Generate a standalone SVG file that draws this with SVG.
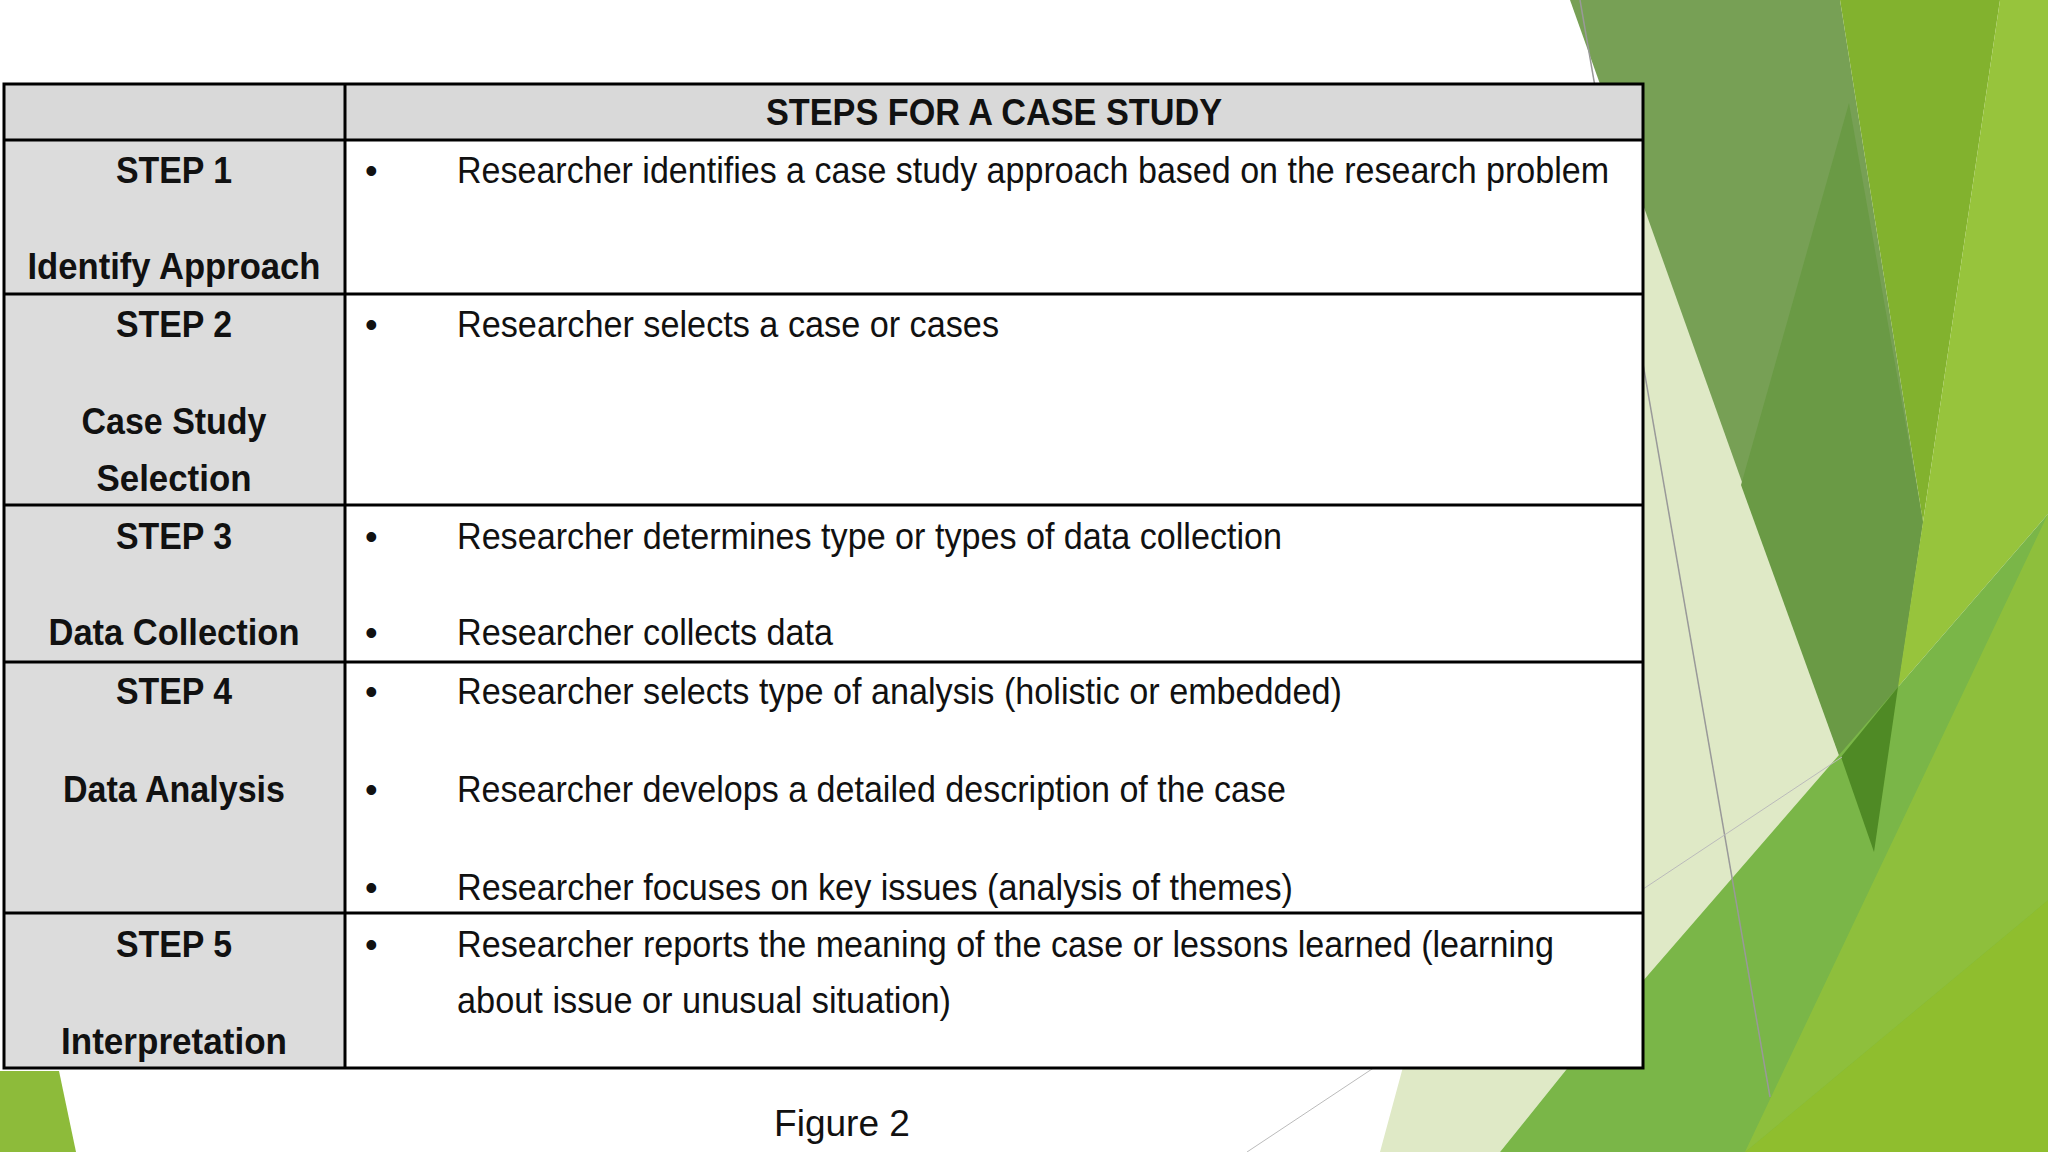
<svg xmlns="http://www.w3.org/2000/svg" width="2048" height="1152" viewBox="0 0 2048 1152">
<style>
.t{font-family:"Liberation Sans",Arial,sans-serif;font-size:36px;fill:#111}
.b{font-weight:bold;text-anchor:middle}
.g{stroke:#000;stroke-width:3;fill:none}
</style>
<rect width="2048" height="1152" fill="#fff"/>
<g id="background">
<polygon points="1640,191 1842,757 1570,1065 1500,1152 1380,1152" fill="#dfe9c6"/>
<polygon points="1570,0 1840,0 1923,522 1874,852" fill="#77a055"/>
<polygon points="1849,103 1923,522 1874,852 1741,485" fill="#6a9a45"/>
<polygon points="1840,0 2000,0 1923,522" fill="#82b22e"/>
<polygon points="2000,0 2048,0 2048,514 1898,687 1923,522" fill="#97c43c"/>
<polygon points="1500,1152 1570,1065 1898,687 2048,514 2048,1152" fill="#7ab648"/>
<polygon points="1745,1152 2048,900 2048,1152" fill="#8fbe2e"/>
<polygon points="1745,1152 2048,514 2048,900" fill="#93c23a" opacity="0.8"/>
<polygon points="1841,757 1898,687 1874,852" fill="#4f8a25"/>
<polygon points="0,1071 59,1071 76,1152 0,1152" fill="#8dbb3a"/>
<line x1="1580" y1="0" x2="1770" y2="1097" stroke="#999" stroke-width="1.5"/>
<line x1="1247" y1="1152" x2="1842" y2="757" stroke="#bbb" stroke-width="1"/>
</g>
<g id="table">
<rect x="4" y="84" width="1639" height="984" fill="#fff"/>
<rect x="4" y="84" width="1639" height="56" fill="#d9d9d9"/>
<rect x="4" y="140" width="341" height="928" fill="#dcdcdc"/>
<rect x="4" y="84" width="1639" height="984" class="g"/>
<path class="g" d="M4 140H1643M4 294H1643M4 505H1643M4 662H1643M4 913H1643M345 84V1068"/>
</g>
<g id="header"><text class="t b" x="994" y="125" textLength="456" lengthAdjust="spacingAndGlyphs">STEPS FOR A CASE STUDY</text></g>
<g id="step1">
<text class="t b" x="174" y="183" textLength="116" lengthAdjust="spacingAndGlyphs">STEP 1</text>
<text class="t b" x="174" y="279" textLength="293" lengthAdjust="spacingAndGlyphs">Identify Approach</text>
<text class="t" x="365" y="183">•</text>
<text class="t" x="457" y="183" textLength="1152" lengthAdjust="spacingAndGlyphs">Researcher identifies a case study approach based on the research problem</text>
</g>
<g id="step2">
<text class="t b" x="174" y="337" textLength="116" lengthAdjust="spacingAndGlyphs">STEP 2</text>
<text class="t b" x="174" y="434" textLength="185" lengthAdjust="spacingAndGlyphs">Case Study</text>
<text class="t b" x="174" y="491" textLength="155" lengthAdjust="spacingAndGlyphs">Selection</text>
<text class="t" x="365" y="337">•</text>
<text class="t" x="457" y="337" textLength="542" lengthAdjust="spacingAndGlyphs">Researcher selects a case or cases</text>
</g>
<g id="step3">
<text class="t b" x="174" y="549" textLength="116" lengthAdjust="spacingAndGlyphs">STEP 3</text>
<text class="t b" x="174" y="645" textLength="251" lengthAdjust="spacingAndGlyphs">Data Collection</text>
<text class="t" x="365" y="549">•</text>
<text class="t" x="457" y="549" textLength="825" lengthAdjust="spacingAndGlyphs">Researcher determines type or types of data collection</text>
<text class="t" x="365" y="645">•</text>
<text class="t" x="457" y="645" textLength="376" lengthAdjust="spacingAndGlyphs">Researcher collects data</text>
</g>
<g id="step4">
<text class="t b" x="174" y="704" textLength="116" lengthAdjust="spacingAndGlyphs">STEP 4</text>
<text class="t b" x="174" y="802" textLength="222" lengthAdjust="spacingAndGlyphs">Data Analysis</text>
<text class="t" x="365" y="704">•</text>
<text class="t" x="457" y="704" textLength="885" lengthAdjust="spacingAndGlyphs">Researcher selects type of analysis (holistic or embedded)</text>
<text class="t" x="365" y="802">•</text>
<text class="t" x="457" y="802" textLength="829" lengthAdjust="spacingAndGlyphs">Researcher develops a detailed description of the case</text>
<text class="t" x="365" y="900">•</text>
<text class="t" x="457" y="900" textLength="836" lengthAdjust="spacingAndGlyphs">Researcher focuses on key issues (analysis of themes)</text>
</g>
<g id="step5">
<text class="t b" x="174" y="957" textLength="116" lengthAdjust="spacingAndGlyphs">STEP 5</text>
<text class="t b" x="174" y="1054" textLength="226" lengthAdjust="spacingAndGlyphs">Interpretation</text>
<text class="t" x="365" y="957">•</text>
<text class="t" x="457" y="957" textLength="1097" lengthAdjust="spacingAndGlyphs">Researcher reports the meaning of the case or lessons learned (learning</text>
<text class="t" x="457" y="1013" textLength="494" lengthAdjust="spacingAndGlyphs">about issue or unusual situation)</text>
</g>
<g id="caption"><text class="t" x="842" y="1136" font-size="44" text-anchor="middle" textLength="136" lengthAdjust="spacingAndGlyphs">Figure 2</text></g>
</svg>
